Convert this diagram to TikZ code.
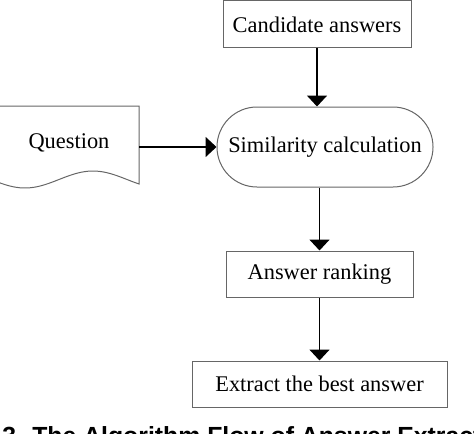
\documentclass[tikz,border=0pt]{standalone}
\usepackage{fontspec}
\setmainfont{Liberation Serif}
\setsansfont{Liberation Sans}
\usetikzlibrary{arrows.meta}

\begin{document}
\begin{tikzpicture}[x=0.5pt, y=-0.5pt,
    every node/.style={font=\fontsize{11.2pt}{13pt}\selectfont},
    procbox/.style={draw=black!60, line width=0.5pt, inner sep=0pt},
    roundbox/.style={procbox, rounded corners=20pt},
    flow/.style={-{Triangle[width=10pt,length=5.5pt]}, line width=0.9pt}]
  % canvas
  \useasboundingbox (0,0) rectangle (474,433);
  \clip (0,0) rectangle (474,433);

  % process steps
  \node (cand) [procbox, minimum width=94pt, minimum height=23.5pt] at (317,24.5) {Candidate answers};
  \node (sim) [roundbox, minimum width=108pt, minimum height=40pt] at (325,147) {Similarity calculation};
  \node (rank) [procbox, minimum width=93.5pt, minimum height=23pt] at (319.5,274) {Answer ranking};
  \node (extract) [procbox, minimum width=127.5pt, minimum height=23pt] at (319.5,384) {Extract the best answer};

  % question document (wavy bottom)
  \node (question) [minimum width=70pt, minimum height=38pt] at (69,144) {\raisebox{2.5pt}{Question}};
  \draw[draw=black!60, line width=0.5pt] (-2,106) -- (139,106) -- (139,182)
    -- plot[domain=139:-2, samples=40] (\x, {179.5 - 8.5*cos((\x-93)/68*180)});

  % connectors
  \draw[flow] (cand.south) -- (cand.south |- sim.north);
  \draw[flow] (question.east |- sim.west) -- (sim.west);
  \draw[flow] (rank.north |- sim.south) -- (rank.north);
  \draw[flow] (rank) -- (extract);

  % caption (cut at the bottom edge)
  \node (caption) [anchor=base west, inner sep=0pt, font=\sffamily\bfseries\fontsize{12.4pt}{14pt}\selectfont] at (2,444) {3. The Algorithm Flow of Answer Extraction};
\end{tikzpicture}
\end{document}
